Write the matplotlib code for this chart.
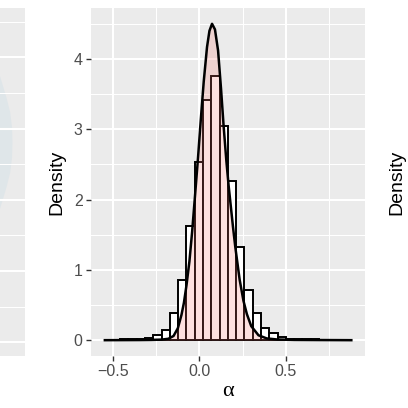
import numpy as np
import matplotlib
matplotlib.use("Agg")
import matplotlib.pyplot as plt

# ---------------- data ----------------
hist_start = -0.555
hist_binwidth = 0.048
hist_heights = [0.005, 0.005, 0.01, 0.01, 0.02, 0.03, 0.08, 0.14, 0.38, 0.85,
                1.62, 2.54, 3.42, 3.76, 3.04, 2.27, 1.33, 0.71, 0.38, 0.18,
                0.10, 0.05, 0.02, 0.015, 0.01, 0.01, 0.005, 0.005, 0.005, 0.005]

dens_x = [-0.555, -0.45, -0.35, -0.28, -0.22, -0.18, -0.15, -0.125, -0.104, -0.09,
          -0.075, -0.058, -0.042, -0.025, -0.008, 0.008, 0.025, 0.044, 0.058, 0.073,
          0.09, 0.108, 0.125, 0.14, 0.156, 0.169, 0.194, 0.208, 0.233, 0.255,
          0.275, 0.30, 0.342, 0.39, 0.45, 0.55, 0.70, 0.887]
dens_y = [0.0, 0.001, 0.002, 0.004, 0.008, 0.02, 0.06, 0.17, 0.36, 0.53,
          0.78, 1.12, 1.55, 2.07, 2.60, 3.14, 3.68, 4.17, 4.40, 4.50,
          4.42, 4.12, 3.58, 3.05, 2.55, 2.20, 1.62, 1.32, 0.86, 0.56,
          0.37, 0.20, 0.07, 0.025, 0.01, 0.004, 0.002, 0.0]

x_ticks = [-0.5, 0.0, 0.5]
x_tick_labels = ["\u22120.5", "0.0", "0.5"]
y_ticks = [0, 1, 2, 3, 4]
y_tick_labels = ["0", "1", "2", "3", "4"]

# partial left panel (only its right edge is visible)
left_shape_y = [0.0, 0.1, 0.2, 0.3, 0.4, 0.5, 0.6, 0.7, 0.8, 0.9, 1.0]
left_shape_w = [0.0, 0.3, 0.6, 0.85, 0.97, 1.0, 0.97, 0.85, 0.6, 0.3, 0.0]

# ---------------- style ----------------
plt.rcParams['font.family'] = ['Liberation Sans', 'DejaVu Sans']
W = H = 408
fig = plt.figure(figsize=(W / 100, H / 100), dpi=100)
fig.patch.set_facecolor('white')

def fx(px):
    return px / W

def fy(py):
    return 1 - py / H

panel_top, panel_bot = 8, 356
ax = fig.add_axes([fx(91), fy(panel_bot), fx(365 - 91), (panel_bot - panel_top) / H])
ax.set_facecolor('#EBEBEB')
for s in ax.spines.values():
    s.set_visible(False)

ax.set_xlim(-0.628, 0.959)
ax.set_ylim(-0.225, 4.725)
ax.set_xticks(x_ticks)
ax.set_xticklabels(x_tick_labels)
ax.set_yticks(y_ticks)
ax.set_yticklabels(y_tick_labels)
ax.set_xticks([-0.25, 0.25, 0.75], minor=True)
ax.set_yticks([0.5, 1.5, 2.5, 3.5, 4.5], minor=True)
ax.grid(which='major', color='white', lw=1.5)
ax.grid(which='minor', color='white', lw=0.75)
ax.set_axisbelow(True)
ax.tick_params(which='major', length=3.6, width=1.0, color='#333333',
               labelcolor='#4D4D4D', labelsize=11.5, pad=2.5)
ax.tick_params(which='minor', length=0)

edges = [hist_start + i * hist_binwidth for i in range(len(hist_heights))]
ax.bar(edges, hist_heights, width=hist_binwidth, align='edge',
       facecolor='white', edgecolor='black', lw=1.4, zorder=2)
ax.fill_between(dens_x, 0, dens_y, color='#F8766D', alpha=0.22, lw=0, zorder=3)
ax.plot(dens_x, dens_y, color='black', lw=1.8, zorder=4,
        solid_capstyle='butt')

ax.set_xlabel("\u03b1", family=['Liberation Serif', 'DejaVu Serif'],
              fontsize=16, labelpad=2)
ax.set_ylabel("Density", fontsize=14, labelpad=6)

# left partial panel
axl = fig.add_axes([fx(25 - 200), fy(panel_bot), fx(200), (panel_bot - panel_top) / H])
axl.set_facecolor('#EBEBEB')
for s in axl.spines.values():
    s.set_visible(False)
axl.set_xlim(0, 1)
axl.set_ylim(0, 1)
axl.set_xticks([])
axl.set_yticks([])
for i, yv in enumerate(np.linspace(0.04, 0.96, 10)):
    axl.axhline(yv, color='white', lw=1.5 if i % 2 == 0 else 0.75)
sy = [0.40 + 0.43 * v for v in left_shape_y]
sx = [0.86 + 0.075 * v for v in left_shape_w]
axl.fill_betweenx(sy, 0.0, sx, color='#9ECAE1', alpha=0.15, lw=0)

# right neighbour's y label
fig.text(fx(397), fy(182), "Density", rotation=90, ha='center', va='center',
         fontsize=14)

fig.savefig("out.png", dpi=100)
